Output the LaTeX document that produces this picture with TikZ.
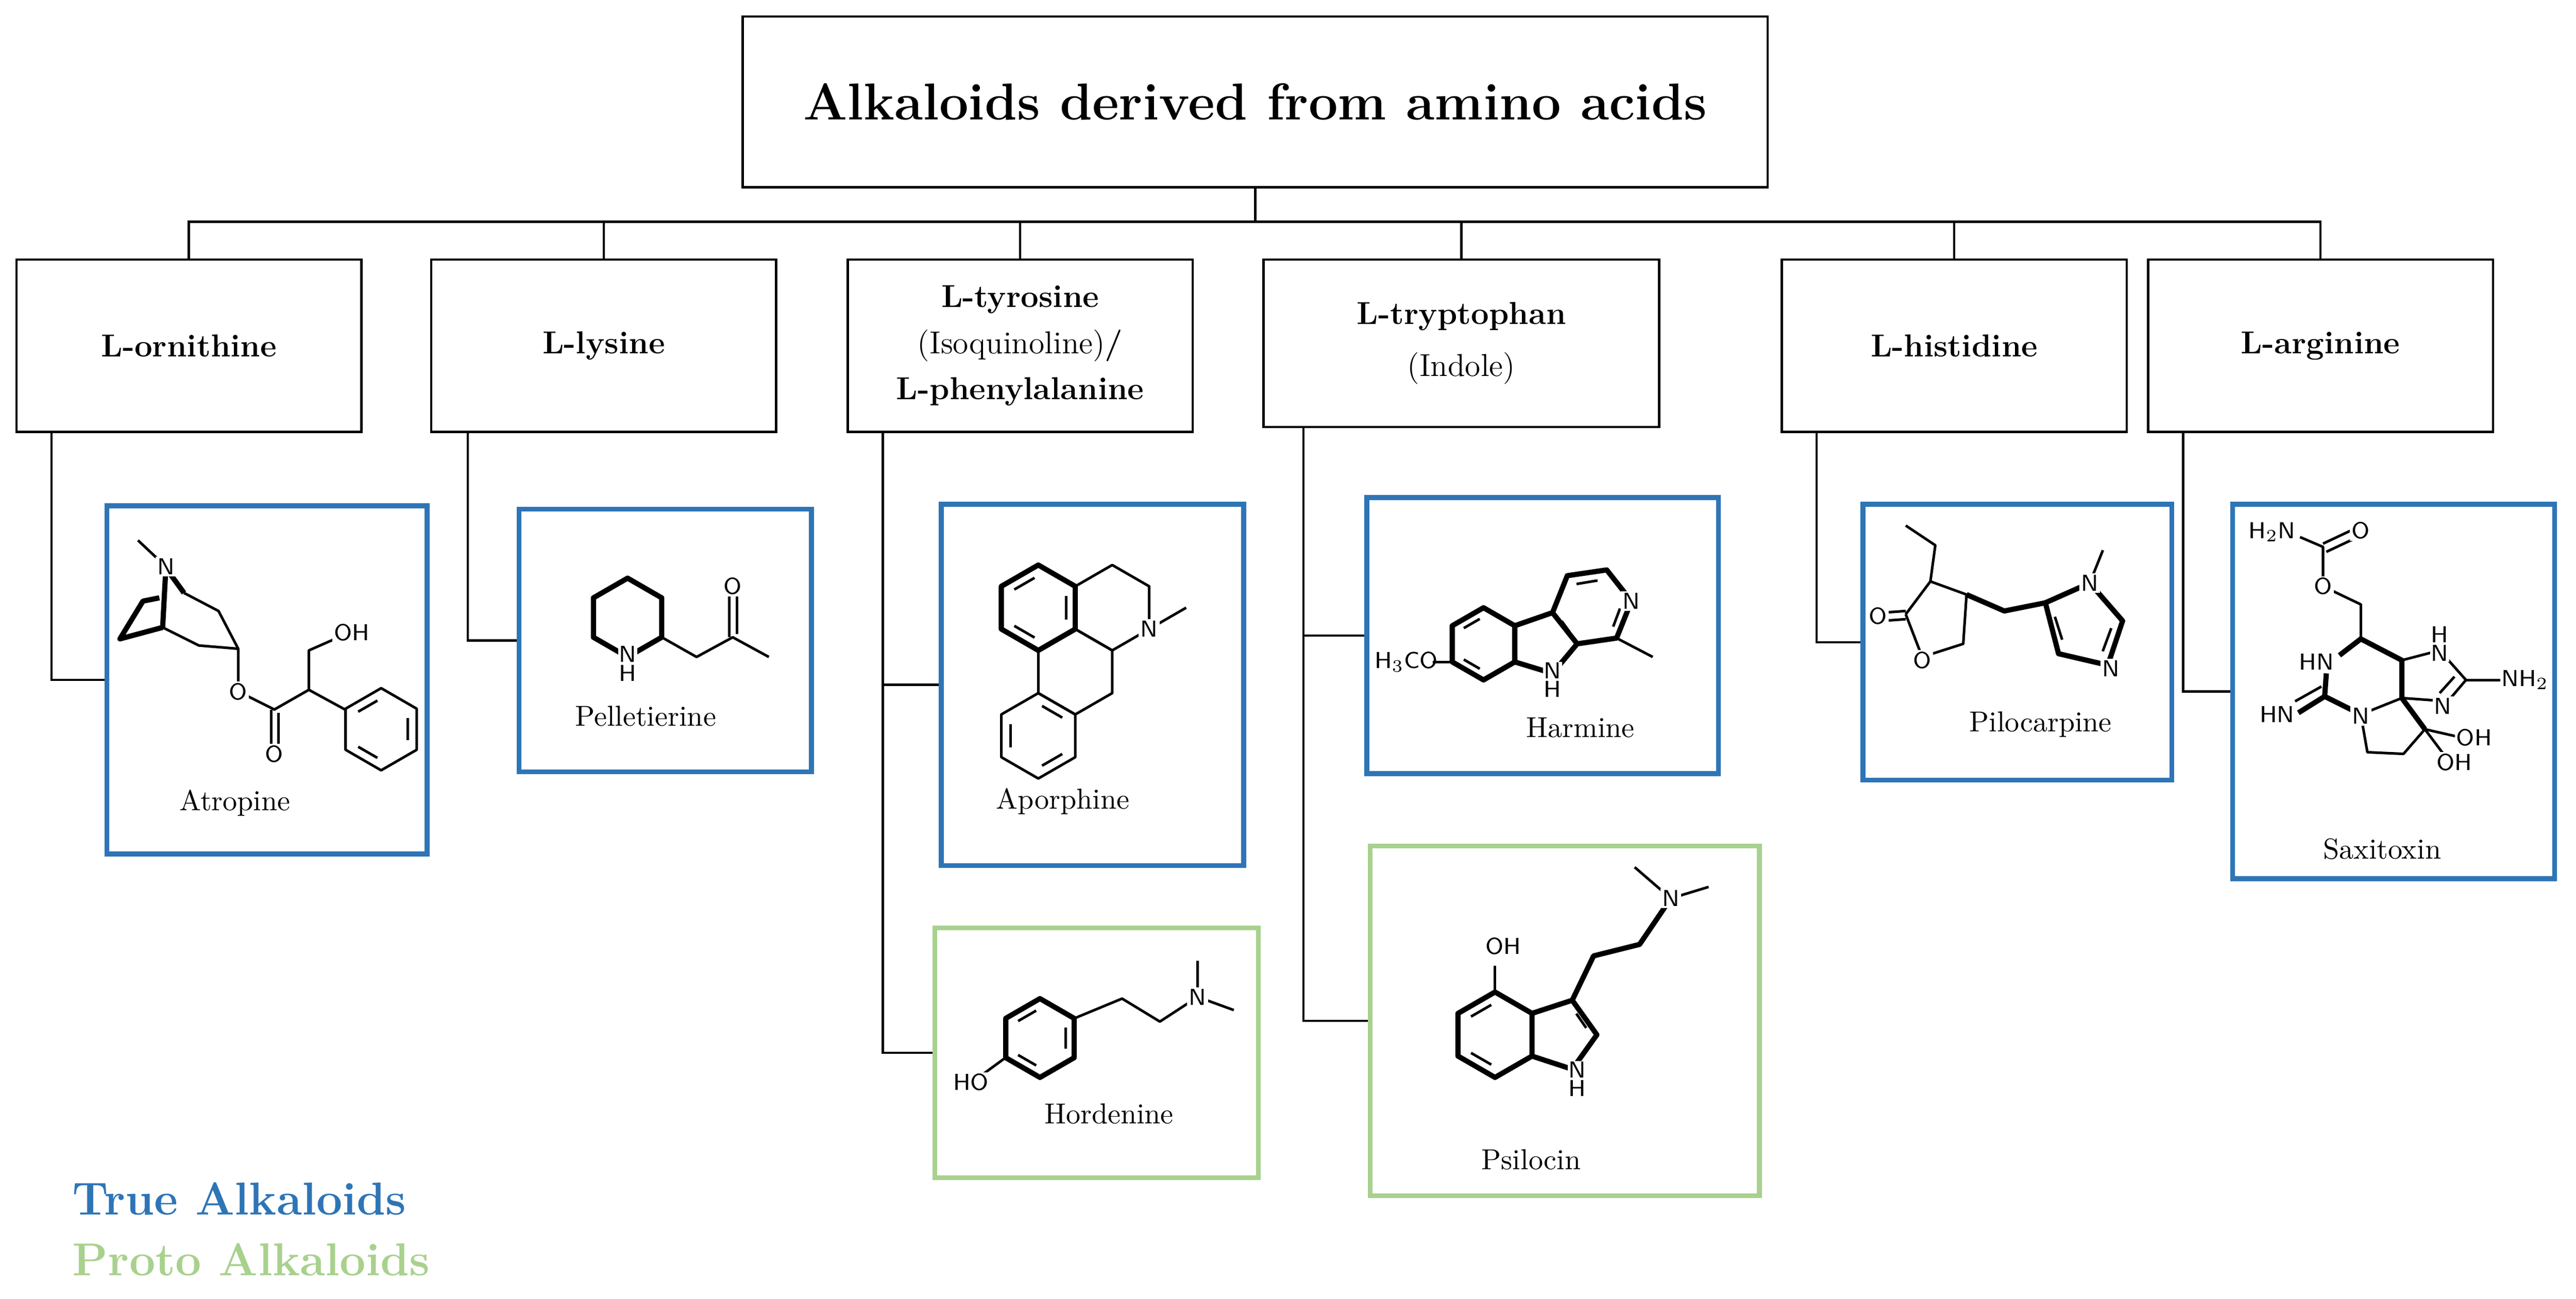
\documentclass[tikz,border=0pt]{standalone}
\usetikzlibrary{positioning, calc}
\definecolor{trueblue}{HTML}{2E75B6}
\definecolor{protogreen}{HTML}{A9D18E}
\tikzset{
  cat/.style={draw, line width=0.8pt, minimum width=4.2cm, minimum height=2.1cm, inner sep=0pt, align=center, font=\fontsize{11}{14}\selectfont\bfseries},
  tru/.style={draw=trueblue, line width=1.7pt, inner sep=0pt},
  proto/.style={draw=protogreen, line width=1.7pt, inner sep=0pt},
  tree/.style={line width=0.8pt},
  bond/.style={line width=0.9pt, line join=round},
  bold/.style={line width=1.8pt, line join=round},
  atom/.style={font=\sffamily\footnotesize, inner sep=0.6pt, fill=white},
  cname/.style={font=\normalsize},
}
\newcommand\ring[3][bond]{\draw[#1] (#2) +(90:#3) -- +(150:#3) -- +(210:#3) -- +(270:#3) -- +(330:#3) -- +(30:#3) -- cycle;}
\newcommand\dbl[4]{\draw[bond, shorten <=1.5pt, shorten >=1.5pt] ($(#1)+(#3:{0.75*#2})$) -- ($(#1)+(#4:{0.75*#2})$);}
\begin{document}
\begin{tikzpicture}[x=0.02cm, y=-0.02cm]
\useasboundingbox (0,0) rectangle (1568,790.6);

% title and amino acid boxes
\node (title) [draw, line width=0.8pt, minimum width=12.48cm, minimum height=2.08cm, font=\fontsize{18}{22}\selectfont\bfseries] at (764,62) {Alkaloids derived from amino acids};
\node (orn) [cat] at (115,210.5) {L-ornithine};
\node (lys) [cat] at (367.5,210.5) {L-lysine};
\node (tyr) [cat] at (621,210.5) {L-tyrosine\\[2pt]{\mdseries(Isoquinoline)}/\\[2pt]L-phenylalanine};
\node (trp) [cat, minimum width=4.82cm, minimum height=2.04cm] at (889.5,209) {L-tryptophan\\[4pt]{\mdseries(Indole)}};
\node (his) [cat] at (1189.5,210.5) {L-histidine};
\node (arg) [cat] at (1412.5,210.5) {L-arginine};

% compound boxes
\node (atro) [tru, minimum width=3.9cm, minimum height=4.24cm] at (162.5,414) {};
\node (pell) [tru, minimum width=3.56cm, minimum height=3.2cm] at (405,390) {};
\node (apor) [tru, minimum width=3.68cm, minimum height=4.4cm] at (665,417) {};
\node (harm) [tru, minimum width=4.28cm, minimum height=3.36cm] at (939,387) {};
\node (pilo) [tru, minimum width=3.76cm, minimum height=3.36cm] at (1228,391) {};
\node (saxi) [tru, minimum width=3.92cm, minimum height=4.56cm] at (1457,421) {};
\node (hord) [proto, minimum width=3.94cm, minimum height=3.04cm] at (667.5,641) {};
\node (psil) [proto, minimum width=4.74cm, minimum height=4.26cm] at (952.5,621.5) {};

% tree
\coordinate (bus) at (764,135);
\draw[tree] (title.south) -- (bus);
\draw[tree] (orn.north) |- (arg.north |- bus) -- (arg.north);
\foreach \n in {lys, tyr, trp, his} \draw[tree] (\n.north) -- (\n.north |- bus);
\draw[tree] ([xshift=0.44cm]orn.south west) |- (atro.west);
\draw[tree] ([xshift=0.46cm]lys.south west) |- (pell.west);
\draw[tree] ([xshift=0.44cm]tyr.south west) |- (apor.west);
\draw[tree] ([xshift=0.44cm]tyr.south west) |- (hord.west);
\draw[tree] ([xshift=0.5cm]trp.south west) |- (harm.west);
\draw[tree] ([xshift=0.5cm]trp.south west) |- (psil.west);
\draw[tree] ([xshift=0.44cm]his.south west) |- (pilo.west);
\draw[tree] ([xshift=0.44cm]arg.south west) |- (saxi.west);

% atropine
\draw[bond] (84,329) -- (101,345);
\draw[bold] (101,345) -- (99,382);
\draw[bold] (97,364) -- (87,366) -- (73,389) -- (99,382);
\draw[bold] (104,350) -- (112,361);
\draw[bond] (112,361) -- (133,372) -- (145,395) -- (121,393) -- (99,382);
\draw[bond] (145,395) -- (145,421) -- (167,432) -- (188,420) -- (188,396) -- (213,385);
\draw[bond] (165,432) -- (165,457);
\draw[bond] (169.5,434) -- (169.5,457);
\draw[bond] (188,420) -- (210,432);
\ring{232,444}{25}
\dbl{232,444}{25}{210}{270} \dbl{232,444}{25}{330}{30} \dbl{232,444}{25}{90}{150}
\node (atroN) [atom] at (101,345) {N};
\node (atroO1) [atom] at (145,421) {O};
\node (atroO2) [atom] at (167,459) {O};
\node (atroOH) [atom] at (214,385) {OH};
\node (atroname) [cname] at (143,489) {Atropine};

% pelletierine
\ring[bold]{382,376}{24}
\draw[bond] (402.8,388) -- (424,400) -- (446,388) -- (468,400);
\draw[bond] (444,388) -- (444,360);
\draw[bond] (448.5,386) -- (448.5,360);
\node (pellN) [atom, align=center, inner sep=0.3pt] at (382,404) {N\\[-3pt]H};
\node (pellO) [atom] at (446,357) {O};
\node (pellname) [cname] at (393,436) {Pelletierine};

% aporphine
\ring[bold]{632,370}{26}
\ring{677,370}{26}
\ring{654.5,409}{26}
\ring{632,448}{26}
\dbl{632,370}{26}{210}{270} \dbl{632,370}{26}{330}{30} \dbl{632,370}{26}{90}{150}
\dbl{632,448}{26}{150}{210} \dbl{632,448}{26}{270}{330} \dbl{632,448}{26}{30}{90}
\draw[bond] (699.5,383) -- (722,370);
\node (aporN) [atom] at (699.5,383) {N};
\node (aporname) [cname] at (647,488) {Aporphine};

% hordenine
\ring[bold]{633,632}{24}
\dbl{633,632}{24}{210}{270} \dbl{633,632}{24}{330}{30} \dbl{633,632}{24}{90}{150}
\draw[bond] (612,644) -- (597,655);
\draw[bond] (654,620) -- (683,608) -- (706,622) -- (729,607) -- (729,585);
\draw[bond] (729,607) -- (751,615);
\node (hordN) [atom] at (729,607) {N};
\node (hordOH) [atom] at (591,659) {HO};
\node (hordname) [cname] at (675,678) {Hordenine};

% harmine
\ring[bold]{903,392}{22}
\dbl{903,392}{22}{210}{270} \dbl{903,392}{22}{90}{150}
\draw[bold] (922,381) -- (945,373) -- (960,392) -- (945,410) -- (922,403);
\draw[bold] (945,373) -- (954,350.5) -- (978,347) -- (993,366) -- (984,388.5) -- (960,392);
\draw[bond, shorten <=1.5pt, shorten >=1.5pt] (957,356) -- (975,353);
\draw[bond, shorten <=1.5pt, shorten >=1.5pt] (987,368) -- (981,384);
\draw[bond, shorten <=1.5pt, shorten >=1.5pt] (949,376) -- (957,387);
\draw[bond] (984,388.5) -- (1006,400);
\draw[bond] (884,403) -- (872,403);
\node (harmN) [atom] at (993,366) {N};
\node (harmNH) [atom, align=center, inner sep=0.3pt] at (945,414) {N\\[-3pt]H};
\node (harmOMe) [atom, fill=none] at (856,403) {H$_3$CO};
\node (harmname) [cname] at (962,443) {Harmine};

% psilocin
\ring[bold]{910,630}{26}
\dbl{910,630}{26}{210}{270} \dbl{910,630}{26}{90}{150}
\draw[bold] (932.5,617) -- (957,609) -- (972,630) -- (957,651) -- (932.5,643);
\draw[bond, shorten <=1.5pt, shorten >=1.5pt] (958,615) -- (967,628);
\draw[bond] (910,604) -- (910,588);
\draw[bold] (957,609) -- (970,582) -- (998,575) -- (1017,547);
\draw[bond] (1017,547) -- (995,528);
\draw[bond] (1017,547) -- (1040,540);
\node (psilOH) [atom] at (915,576) {OH};
\node (psilNH) [atom, align=center, inner sep=0.3pt] at (960,657) {N\\[-3pt]H};
\node (psilN) [atom] at (1017,547) {N};
\node (psilname) [cname] at (932,706) {Psilocin};

% pilocarpine
\draw[bond] (1160,374) -- (1175,354) -- (1197,362) -- (1195,392) -- (1170,400) -- (1160,374);
\draw[bond] (1160,372) -- (1146,373);
\draw[bond] (1160,377) -- (1146,378);
\draw[bond] (1175,354) -- (1178,332) -- (1160,320);
\draw[bold] (1197,362) -- (1220,372) -- (1245,367);
\draw[bold] (1245,367) -- (1272,355) -- (1292,378) -- (1283,405) -- (1253,398) -- cycle;
\draw[bond, shorten <=1.5pt, shorten >=1.5pt] (1250,373) -- (1256,392);
\draw[bond, shorten <=1.5pt, shorten >=1.5pt] (1286,380) -- (1279,399);
\draw[bond] (1272,355) -- (1280,335);
\node (piloO1) [atom] at (1143,375) {O};
\node (piloO2) [atom] at (1170,402) {O};
\node (piloN1) [atom] at (1272,355) {N};
\node (piloN3) [atom] at (1285,407) {N};
\node (piloname) [cname] at (1242,441) {Pilocarpine};

% saxitoxin
\draw[bond] (1400,327) -- (1414,333) -- (1414,357) -- (1437,368) -- (1437,389);
\draw[bond] (1414,331) -- (1431,323);
\draw[bond] (1416,336) -- (1433,328);
\draw[bold] (1424,399) -- (1437,389) -- (1462,402) -- (1462,425);
\draw[bond] (1462,425) -- (1437,435);
\draw[bold] (1437,435) -- (1415,424) -- (1416,410);
\draw[bold] (1415,424) -- (1399,434);
\draw[bond] (1413,418) -- (1397,427);
\draw[bond] (1462,402) -- (1485,396);
\draw[bond] (1485,396) -- (1501,414) -- (1490,427) -- (1462,425);
\draw[bond] (1494,412) -- (1485,422);
\draw[bond] (1501,414) -- (1525,414);
\draw[bold] (1462,425) -- (1476,444);
\draw[bond] (1476,444) -- (1498,449);
\draw[bond] (1476,444) -- (1488,460);
\draw[bond] (1437,435) -- (1441,458) -- (1463,459) -- (1476,444);
\node (saxH2N) [atom] at (1383,324) {H$_2$N};
\node (saxO1) [atom] at (1437,323) {O};
\node (saxO2) [atom] at (1414,357) {O};
\node (saxHN1) [atom] at (1410,403) {HN};
\node (saxHN2) [atom] at (1386,435) {HN};
\node (saxN1) [atom] at (1437,436) {N};
\node (saxNH) [atom, align=center, inner sep=0.3pt] at (1485,392) {H\\[-3pt]N};
\node (saxN3) [atom] at (1487,430) {N};
\node (saxNH2) [atom] at (1537,414) {NH$_2$};
\node (saxOH1) [atom] at (1506,449) {OH};
\node (saxOH2) [atom] at (1494,464) {OH};
\node (saxname) [cname] at (1450,517) {Saxitoxin};

% legend
\node (legtrue) [anchor=west, text=trueblue, font=\fontsize{16}{18}\selectfont\bfseries] at (38,730) {True Alkaloids};
\node (legproto) [anchor=west, text=protogreen, font=\fontsize{16}{18}\selectfont\bfseries] at (38,767) {Proto Alkaloids};
\end{tikzpicture}
\end{document}
